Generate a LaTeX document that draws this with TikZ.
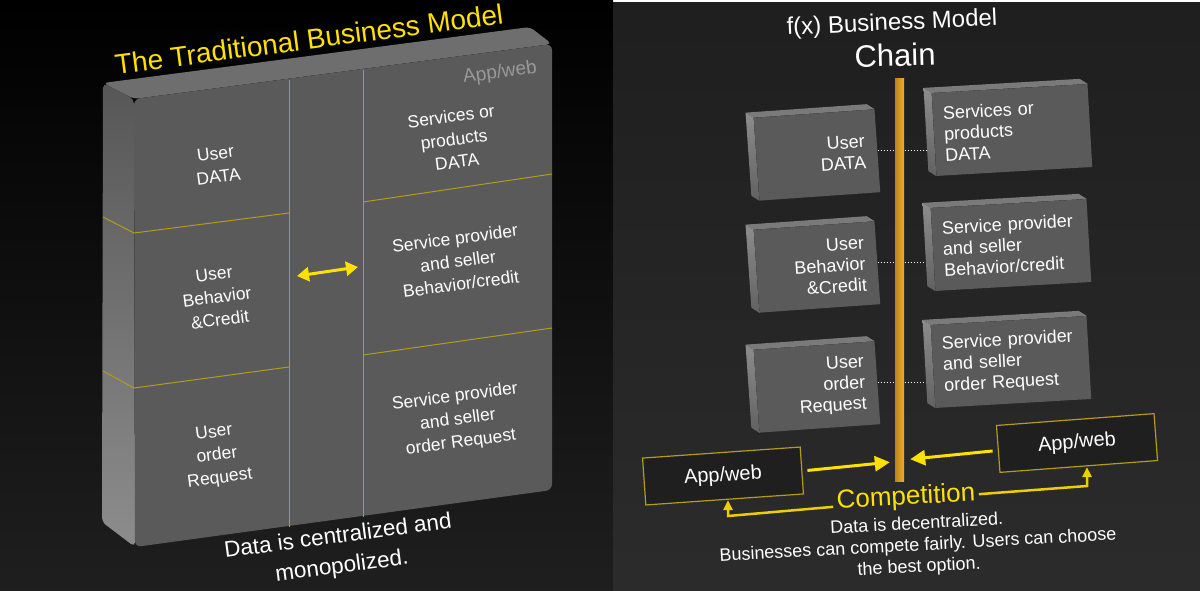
\documentclass[tikz,border=0pt]{standalone}
\usepackage{fontspec}
\setmainfont{Liberation Sans}
\usetikzlibrary{arrows.meta,positioning,calc}

\definecolor{gold}{HTML}{FFE100}
\definecolor{dimgold}{HTML}{B39B1C}
\definecolor{slab}{HTML}{5A5A5A}
\definecolor{slabtop}{HTML}{7A7A7A}
\definecolor{chainor}{HTML}{EDA31A}

\begin{document}
\begin{tikzpicture}[
  x=1pt, y=-1pt,
  >=Triangle,
  blk/.style={text=white, align=center, font=\fontsize{17.5}{23}\selectfont, rotate=7.5},
  lcard/.style={fill=slab, text=white, align=right, text width=97pt, inner xsep=12pt, minimum height=83pt, rotate=4, font=\fontsize{18}{21}\selectfont},
  rcard/.style={fill=slab, text=white, align=left, text width=136pt, inner xsep=10pt, minimum height=83pt, rotate=3.3, font=\fontsize{18}{21}\selectfont},
  appbox/.style={draw=dimgold, line width=1.2pt, fill=black!88, text=white, minimum width=158pt, minimum height=47pt, rotate=4, font=\fontsize{20}{22}\selectfont},
  chainbar/.style={left color=chainor!80!black, right color=chainor!90!white, minimum width=9pt, minimum height=403pt, inner sep=0pt},
  divider/.style={dimgold, line width=1pt},
  yarrow/.style={->, gold, line width=3pt, >={Triangle[length=15pt,width=15pt]}},
  yline/.style={->, gold!92!black, line width=2.5pt, >={Triangle[length=10pt,width=9pt]}},
  dots/.style={white, line width=1.2pt, dash pattern=on 1.5pt off 1.5pt}
]
\useasboundingbox (0,0) rectangle (1200,590);
\shade[top color=black, bottom color=black!88] (0,0) rectangle (613,590);
\shade[top color=black!88, bottom color=black!83] (613,2) rectangle (1200,590);

\fill[black!57, rounded corners=5pt] (103,83) -- (530,27) -- (552,44) -- (134,99) -- cycle;
\shade[top color=black!66, bottom color=black!45, rounded corners=5pt] (103,83) -- (134,99) -- (135,547) -- (102,522) -- cycle;
\fill[slab, rounded corners=6pt] (134,99) -- (552,44) -- (552,490) -- (135,547) -- cycle;
\draw[divider] (289,80) -- (289,527);
\draw[divider] (363,70) -- (363,517);
\draw[divider] (103,217) -- (134,233) -- (289,213);
\draw[divider] (103,371) -- (134,388) -- (289,367);
\draw[divider] (363,202) -- (552,174);
\draw[divider] (363,355) -- (552,328);

\node[gold, font=\fontsize{28}{30}\selectfont, rotate=7.5] (title) at (309,39) {The Traditional Business Model};
\node[text=black!40, font=\fontsize{19}{21}\selectfont, rotate=7.5] (oldapp) at (500,73) {App/web};
\node[blk] (oud) at (217,165) {User\\DATA};
\node[blk] (oub) at (217,297) {User\\Behavior\\\&Credit};
\node[blk] (ouo) at (217,456) {User\\order\\Request};
\node[blk] (osd) at (454,139) {Services or\\products\\DATA};
\node[blk] (osb) at (458,261) {Service provider\\and seller\\Behavior/credit};
\node[blk] (oso) at (458,420) {Service provider\\and seller\\order Request};
\coordinate (xl) at (297,276);
\coordinate (xr) at (358,267);
\draw[<->, gold, line width=3pt, >={Triangle[length=12pt,width=14pt]}] (xl) -- (xr);
\node[text=white, align=center, font=\fontsize{22.5}{30}\selectfont, rotate=7.5] (mono) at (340,552) {Data is centralized and\\monopolized.};

\node[text=white, font=\fontsize{24}{26}\selectfont, rotate=2.6] (fx) at (892,24) {f(x) Business Model};
\node[text=white, font=\fontsize{31}{33}\selectfont, rotate=1.5] (chainlbl) at (895,55) {Chain};

\node[lcard] (ud) at (817,155) {User\\DATA};
\node[lcard] (ub) at (817,267) {User\\Behavior\\\&Credit};
\node[lcard] (uo) at (817,387) {User\\order\\Request};
\node[rcard] (sd) at (1012,130) {Services or\\products\\DATA};
\node[rcard] (sb) at (1011,245) {Service provider\\and seller\\Behavior/credit};
\node[rcard] (so) at (1011,362) {Service provider\\and seller\\order Request};
\foreach \n in {ud,ub,uo,sd,sb,so} {
  \fill[slabtop] (\n.north west) -- (\n.north east) -- ++(-8,-5) -- ($(\n.north west)+(-8,-5)$) -- cycle;
  \shade[top color=black!45, bottom color=black!62] (\n.north west) -- ++(-8,-5) -- ($(\n.south west)+(-8,-5)$) -- (\n.south west) -- cycle;
}
\draw[dots, shorten >=8pt] (ud.east) -- (ud.east -| sd.west);
\draw[dots, shorten >=8pt] (ub.east) -- (ub.east -| sb.west);
\draw[dots, shorten >=8pt] (uo.east) -- (uo.east -| so.west);

\node[chainbar] (chain) at (899.5,279.5) {};

\node[appbox] (appl) at (723,476) {App/web};
\node[appbox, rotate=0.3] (appr) at (1077,443) {App/web};
\draw[yarrow] ($(appl.east)+(5,0)$) -- ($(chain.south west)+(-5,-19)$);
\draw[yarrow] ($(appr.west)+(-5,2)$) -- ($(chain.south east)+(6,-22)$);

\node[gold, font=\fontsize{26}{28}\selectfont, rotate=3] (comp) at (906,498) {Competition};
\coordinate (cl) at (728,516);
\coordinate (cr) at (1087,486);
\draw[yline] ($(comp.west)+(0,5)$) -- (cl) -- (cl |- appl.south);
\draw[yline] (comp.east) -- (cr) -- (cr |- appr.south);

\node[text=white, align=center, font=\fontsize{18}{21.5}\selectfont, rotate=3.1] (fair) at (918,546) {Data is decentralized.\\Businesses can compete fairly. Users can choose\\the best option.};
\end{tikzpicture}
\end{document}
